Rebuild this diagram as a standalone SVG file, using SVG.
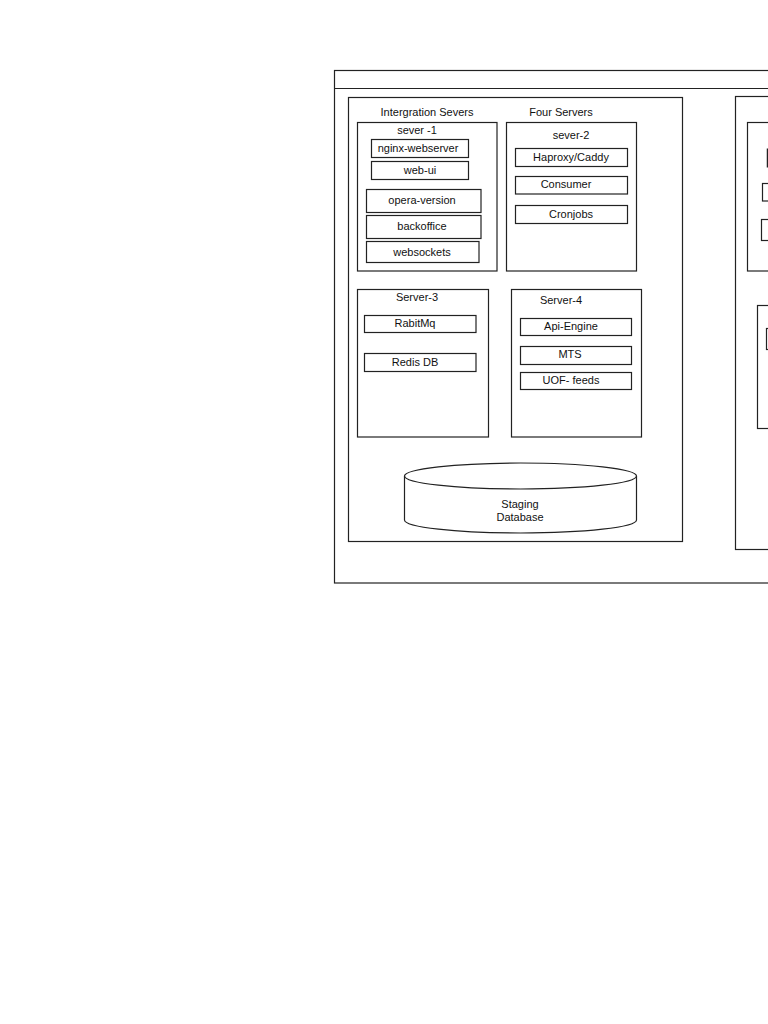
<svg xmlns="http://www.w3.org/2000/svg" width="768" height="1024" viewBox="0 0 768 1024">
<style>
.b{fill:#fff;stroke:#222;stroke-width:1.2}
.t{font-family:"Liberation Sans",Arial,sans-serif;font-size:11px;fill:#111;text-anchor:middle}
</style>
<rect width="768" height="1024" fill="#fff"/>
<g id="frame">
<rect class="b" x="334.5" y="70.5" width="440" height="512.5"/>
<line x1="334.5" y1="88.5" x2="768" y2="88.5" stroke="#222" stroke-width="1.2"/>
</g>
<g id="integration">
<rect class="b" x="348.5" y="97.5" width="334" height="444"/>
<text class="t" x="427" y="116">Intergration Severs</text>
<text class="t" x="561" y="116">Four Servers</text>
</g>
<g id="sever1">
<rect class="b" x="357.5" y="122.5" width="139.5" height="148.5"/>
<text class="t" x="417" y="134">sever -1</text>
<rect class="b" x="371.5" y="139.5" width="97" height="18"/>
<text class="t" x="418" y="152">nginx-webserver</text>
<rect class="b" x="371.5" y="161.5" width="97" height="18"/>
<text class="t" x="420" y="174">web-ui</text>
<rect class="b" x="366.5" y="189.5" width="114.5" height="23"/>
<text class="t" x="422" y="204">opera-version</text>
<rect class="b" x="366.5" y="215.5" width="114.5" height="23"/>
<text class="t" x="422" y="230">backoffice</text>
<rect class="b" x="366.5" y="241.5" width="112.5" height="21"/>
<text class="t" x="422" y="256">websockets</text>
</g>
<g id="sever2">
<rect class="b" x="506.5" y="122.5" width="130" height="148.5"/>
<text class="t" x="571" y="139">sever-2</text>
<rect class="b" x="515.5" y="148.5" width="112" height="18"/>
<text class="t" x="571" y="161">Haproxy/Caddy</text>
<rect class="b" x="515.5" y="176.5" width="112" height="17.5"/>
<text class="t" x="566" y="188">Consumer</text>
<rect class="b" x="515.5" y="205.5" width="112" height="18"/>
<text class="t" x="571" y="218">Cronjobs</text>
</g>
<g id="server3">
<rect class="b" x="357.5" y="289.5" width="131" height="147.5"/>
<text class="t" x="417" y="301">Server-3</text>
<rect class="b" x="364.5" y="315.5" width="111.5" height="17"/>
<text class="t" x="415" y="327">RabitMq</text>
<rect class="b" x="364.5" y="353.5" width="111.5" height="18"/>
<text class="t" x="415" y="366">Redis DB</text>
</g>
<g id="server4">
<rect class="b" x="511.5" y="289.5" width="130" height="147.5"/>
<text class="t" x="561" y="304">Server-4</text>
<rect class="b" x="520.5" y="318.5" width="111" height="17"/>
<text class="t" x="571" y="330">Api-Engine</text>
<rect class="b" x="520.5" y="346.5" width="111" height="18"/>
<text class="t" x="570" y="358">MTS</text>
<rect class="b" x="520.5" y="372.5" width="111" height="17"/>
<text class="t" x="571" y="384">UOF- feeds</text>
</g>
<g id="staging-db">
<path class="b" d="M404.5,476 L404.5,520 A116,13 0 0 0 636.5,520 L636.5,476 A116,13 0 0 0 404.5,476 Z"/>
<path d="M404.5,476 A116,13 0 0 0 636.5,476" fill="none" stroke="#222" stroke-width="1.2"/>
<text class="t" x="520" y="508">Staging</text>
<text class="t" x="520" y="521">Database</text>
</g>
<g id="right-group">
<rect class="b" x="735.5" y="96.5" width="60" height="453"/>
<rect class="b" x="747.5" y="122.5" width="40" height="148.5"/>
<line x1="767.5" y1="148.5" x2="767.5" y2="167.5" stroke="#222" stroke-width="1.5"/>
<rect class="b" x="762.5" y="183.5" width="30" height="17.5"/>
<rect class="b" x="761.5" y="219.5" width="30" height="21"/>
<rect class="b" x="757.5" y="305.5" width="30" height="123"/>
<rect class="b" x="766.5" y="328.5" width="30" height="21"/>
</g>
<g id="connectors"></g>
</svg>
